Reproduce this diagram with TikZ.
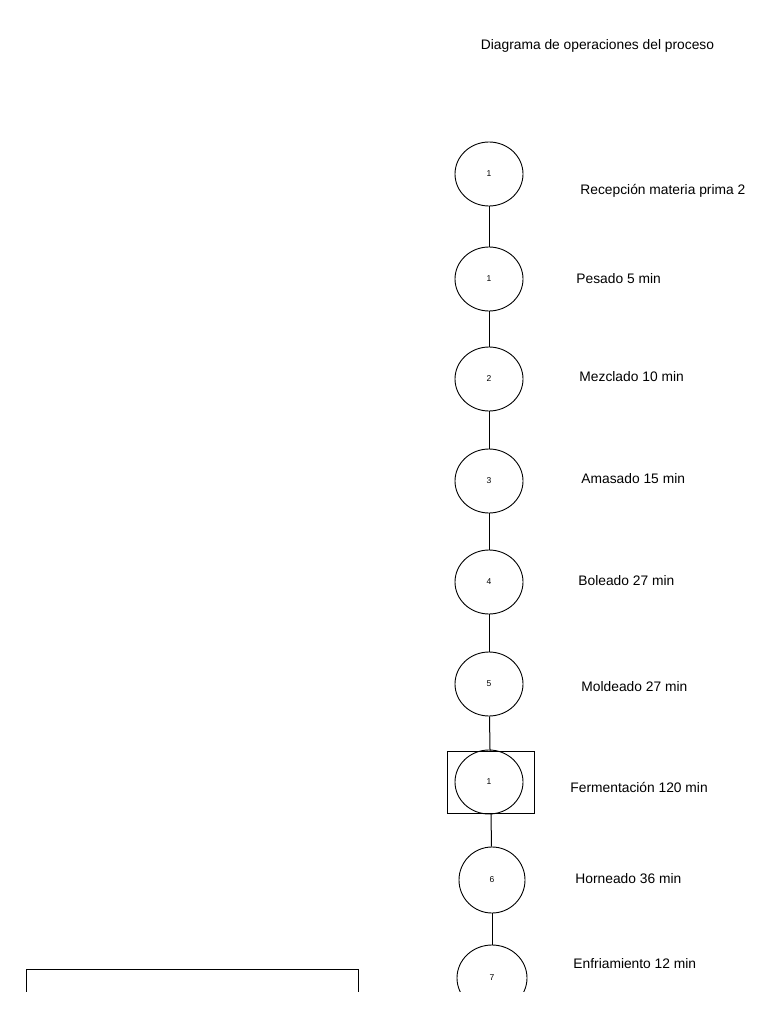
\documentclass[tikz,border=0pt]{standalone}
\usepackage{fontspec}
\setmainfont{Liberation Sans}
\usetikzlibrary{shapes.geometric}
\begin{document}
\begin{tikzpicture}[x=1pt,y=-1pt,line width=0.9pt,
  op/.style={draw,ellipse,minimum width=68pt,minimum height=64pt,inner sep=0pt,font=\fontsize{8.5}{9}\selectfont},
  lbl/.style={anchor=west,inner sep=0pt,font=\fontsize{13.8}{15}\selectfont},
  link/.style={line width=1pt}]
\useasboundingbox (0,0) rectangle (768,1024);
\node[inner sep=0pt,font=\fontsize{13.8}{15}\selectfont] (title) at (597.5,46) {Diagrama de operaciones del proceso};
\begin{scope}
\clip (0,0) rectangle (768,991);
\node[op] (o1) at (489,174) {1};
\node[op] (o2) at (489,279) {1};
\node[op] (o3) at (489,379) {2};
\node[op] (o4) at (489,481) {3};
\node[op] (o5) at (489,582) {4};
\node[op] (o6) at (489,684) {5};
\node[op] (o7) at (489,782) {1};
\node[draw,minimum width=87pt,minimum height=62pt,inner sep=0pt] (box) at (490.5,782) {};
\node[op,minimum width=66pt,minimum height=66pt] (o8) at (492,880) {6};
\node[op,minimum width=70pt,minimum height=66pt] (o9) at (492,978) {7};
\draw[link] (o1) -- (o2);
\draw[link] (o2) -- (o3);
\draw[link] (o3) -- (o4);
\draw[link] (o4) -- (o5);
\draw[link] (o5) -- (o6);
\draw[link] (o6) -- (box);
\draw[link] (box) -- (o8);
\draw[link] (o8) -- (o9);
\draw (26,1000) -- (26,969) -- (358,969) -- (358,1000);
\end{scope}
\node[lbl] (l1) at (580,191) {Recepción materia prima 2};
\node[lbl] (l2) at (576,279) {Pesado 5 min};
\node[lbl] (l3) at (579,377) {Mezclado 10 min};
\node[lbl] (l4) at (581,479) {Amasado 15 min};
\node[lbl] (l5) at (578,581) {Boleado 27 min};
\node[lbl] (l6) at (581,687) {Moldeado 27 min};
\node[lbl] (l7) at (570,787) {Fermentación 120 min};
\node[lbl] (l8) at (575,879) {Horneado 36 min};
\node[lbl] (l9) at (573,964) {Enfriamiento 12 min};
\end{tikzpicture}
\end{document}
